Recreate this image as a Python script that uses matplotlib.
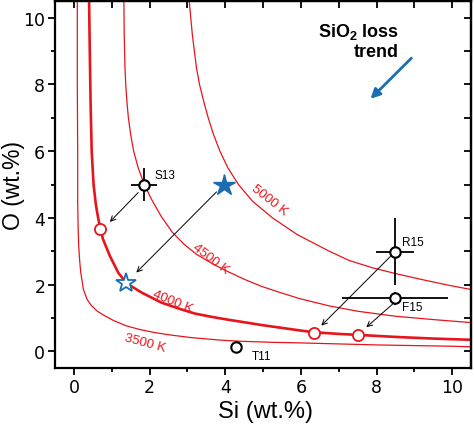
import numpy as np
import matplotlib.pyplot as plt

plt.rcParams['font.family'] = ['Liberation Sans', 'DejaVu Sans']
plt.rcParams['mathtext.fontset'] = 'custom'
plt.rcParams['mathtext.rm'] = 'Liberation Sans'
plt.rcParams['mathtext.bf'] = 'Liberation Sans:bold'

# isotherms (Si wt.%, O wt.%)
si_3500 = [0.09, 0.09, 0.10, 0.10, 0.11, 0.125, 0.15, 0.18, 0.25, 0.35, 0.47, 0.62, 0.82, 1.05, 1.39,
           1.75, 2.14, 2.6, 3.1, 3.8, 4.4, 5.2, 6.0, 7.0, 8.0, 9.0, 10.0, 10.6]
o_3500 = [10.6, 8.0, 6.0, 4.5, 3.8, 3.2, 2.75, 2.37, 1.86, 1.55, 1.36, 1.2, 1.06, 0.92, 0.76,
          0.65, 0.56, 0.48, 0.41, 0.34, 0.30, 0.27, 0.25, 0.22, 0.19, 0.17, 0.15, 0.13]

si_4000 = [0.40, 0.42, 0.44, 0.47, 0.52, 0.58, 0.64, 0.70, 0.77, 0.95, 1.17, 1.39, 1.79, 2.31, 2.8, 3.2,
           3.6, 4.0, 4.5, 5.0, 5.5, 6.0, 6.34, 7.0, 7.52, 8.5, 9.5, 10.6]
o_4000 = [10.6, 9.0, 7.5, 6.0, 5.0, 4.4, 4.0, 3.68, 3.36, 2.86, 2.36, 2.04, 1.76, 1.46, 1.27, 1.13,
          1.04, 0.96, 0.87, 0.78, 0.70, 0.62, 0.57, 0.52, 0.49, 0.43, 0.38, 0.34]

si_4500 = [1.32, 1.33, 1.35, 1.37, 1.40, 1.44, 1.50, 1.58, 1.70, 1.86, 2.05, 2.30, 2.60, 2.92, 3.25,
           3.70, 4.05, 4.50, 4.95, 5.40, 5.96, 6.75, 7.5, 8.5, 9.5, 10.6]
o_4500 = [10.6, 9.5, 8.5, 8.0, 7.5, 7.0, 6.5, 6.0, 5.5, 5.0, 4.56, 4.06, 3.57, 3.2, 2.9,
          2.6, 2.4, 2.16, 1.95, 1.78, 1.58, 1.36, 1.2, 1.05, 0.95, 0.85]

si_5000 = [3.04, 3.13, 3.24, 3.32, 3.43, 3.55, 3.69, 3.86, 4.07, 4.35, 4.72, 5.25, 5.9, 6.75, 7.28,
           7.9, 8.5, 9.2, 9.9, 10.6]
o_5000 = [10.6, 9.5, 8.5, 8.0, 7.5, 7.0, 6.5, 6.0, 5.5, 5.0, 4.5, 4.0, 3.5, 3.0, 2.72,
          2.5, 2.33, 2.15, 1.98, 1.83]

# measured samples
samples = ['S13', 'R15', 'F15']
sample_si = [1.85, 8.49, 8.49]
sample_o = [5.0, 2.99, 1.59]
sample_si_err = [0.34, 0.5, 1.4]
sample_o_err = [0.5, 1.0, 0.2]
t11_si, t11_o = 4.29, 0.13

# projected points on the 4000 K curve
proj_si = [0.70, 6.34, 7.52]
proj_o = [3.68, 0.56, 0.49]

star_si, star_o = 3.98, 5.0
star_proj_si, star_proj_o = 1.39, 2.04

# arrows (start -> head)
arrows = [((1.70, 4.76), (0.95, 3.88)),
          ((3.77, 4.78), (1.65, 2.36)),
          ((8.39, 2.87), (6.54, 0.77)),
          ((8.43, 1.42), (7.73, 0.72))]

red = '#e8141b'
blue = '#1b6db3'

fig = plt.figure(figsize=(4.74, 4.27), dpi=100)
ax = fig.add_axes([0.116, 0.136, 0.878, 0.859])

ax.plot(si_3500, o_3500, color=red, lw=0.9)
ax.plot(si_4000, o_4000, color=red, lw=1.9)
ax.plot(si_4500, o_4500, color=red, lw=0.9)
ax.plot(si_5000, o_5000, color=red, lw=0.9)

ax.text(1.87, 0.26, '3500 K', color=red, fontsize=9.5, rotation=-15, ha='center', va='center')
ax.text(2.62, 1.51, '4000 K', color=red, fontsize=9.5, rotation=-22, ha='center', va='center')
ax.text(3.60, 2.79, '4500 K', color=red, fontsize=9.5, rotation=-37, ha='center', va='center')
ax.text(5.17, 4.56, '5000 K', color=red, fontsize=9.5, rotation=-38, ha='center', va='center')

for (x0, y0), (x1, y1) in arrows:
    ax.annotate('', xy=(x1, y1), xytext=(x0, y0),
                arrowprops=dict(arrowstyle='->', color='k', lw=0.7, shrinkA=0, shrinkB=0,
                                mutation_scale=9))

ax.errorbar(sample_si, sample_o, xerr=sample_si_err, yerr=sample_o_err, fmt='o', color='k',
            ecolor='k', elinewidth=1.3, capsize=0, ms=7.5, mfc='white', mec='k', mew=1.5, zorder=4)
ax.plot(t11_si, t11_o, 'o', ms=7.5, mfc='white', mec='k', mew=1.5, zorder=4)

ax.plot(proj_si, proj_o, 'o', ms=8, mfc='white', mec=red, mew=1.3, zorder=4)
ax.plot(star_si, star_o, '*', ms=16, color=blue, zorder=4)
ax.plot(star_proj_si, star_proj_o, '*', ms=15, mfc='white', mec=blue, mew=1.3, zorder=4)

ax.text(2.14, 5.28, 'S13', fontsize=8.5, ha='left', va='center')
ax.text(8.68, 3.28, 'R15', fontsize=8.5, ha='left', va='center')
ax.text(8.68, 1.33, 'F15', fontsize=8.5, ha='left', va='center')
ax.text(4.69, -0.14, 'T11', fontsize=8.5, ha='left', va='center')

ax.text(8.58, 9.6, r'SiO$_\mathbf{2}$ loss', fontsize=13, fontweight='bold', ha='right', va='center')
ax.text(8.58, 9.0, 'trend', fontsize=13, fontweight='bold', ha='right', va='center')
ax.annotate('', xy=(7.84, 7.57), xytext=(8.92, 8.79),
            arrowprops=dict(arrowstyle='-|>', color=blue, lw=2, shrinkA=0, shrinkB=0,
                            mutation_scale=14))

ax.set_xlim(-0.5, 10.5)
ax.set_ylim(-0.5, 10.5)
ax.set_xticks([0, 2, 4, 6, 8, 10])
ax.set_yticks([0, 2, 4, 6, 8, 10])
ax.set_xticks([1, 3, 5, 7, 9], minor=True)
ax.set_yticks([1, 3, 5, 7, 9], minor=True)
ax.tick_params(which='both', direction='out', top=False, right=False, width=1.3)
ax.tick_params(which='major', length=5, labelsize=12.5, pad=2)
ax.tick_params(which='minor', length=3)
for lab in ax.get_xticklabels() + ax.get_yticklabels():
    lab.set_family('DejaVu Sans')

# inward ticks on top and right
top = ax.secondary_xaxis('top')
top.set_xticks([0, 2, 4, 6, 8, 10])
top.set_xticks([1, 3, 5, 7, 9], minor=True)
top.tick_params(which='both', direction='in', length=5, width=1.3, labeltop=False)
right = ax.secondary_yaxis('right')
right.set_yticks([0, 2, 4, 6, 8, 10])
right.set_yticks([1, 3, 5, 7, 9], minor=True)
right.tick_params(which='both', direction='in', length=5, width=1.3, labelright=False)
for s in ax.spines.values():
    s.set_linewidth(1.6)
top.spines['top'].set_linewidth(1.6)
right.spines['right'].set_linewidth(1.6)

ax.set_xlabel('Si (wt.%)', fontsize=17)
ax.set_ylabel('O (wt.%)', fontsize=16.5)
ax.xaxis.set_label_coords(0.505, -0.087)
ax.yaxis.set_label_coords(-0.072, 0.5)

fig.savefig('out.png', dpi=100)
